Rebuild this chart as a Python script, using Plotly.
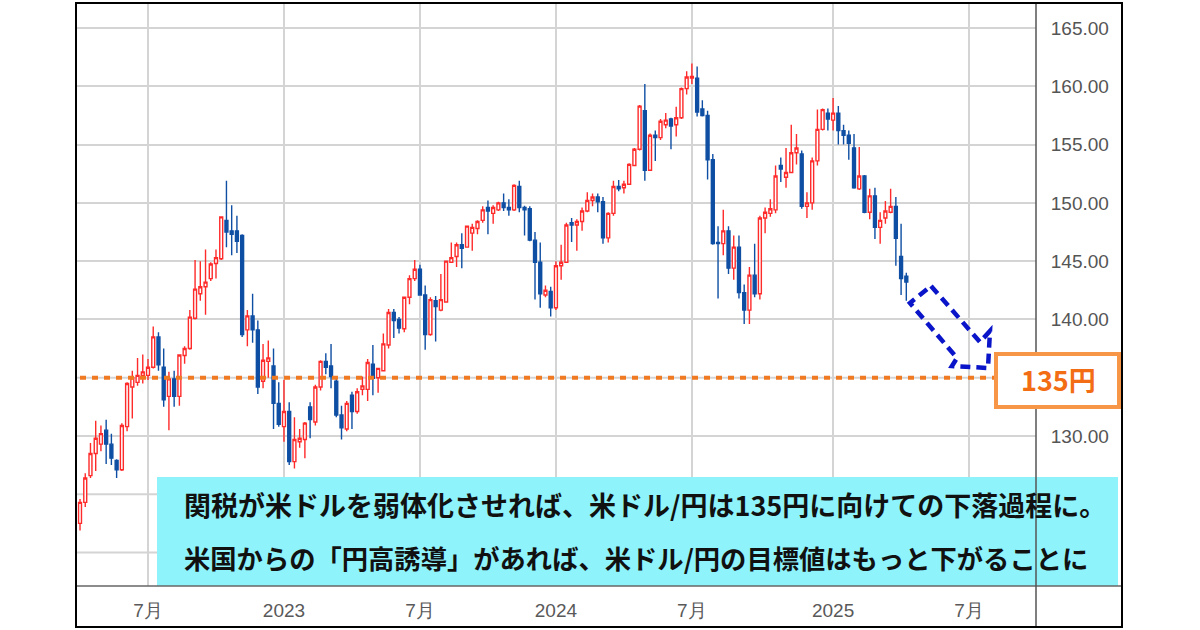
import pandas as pd
import plotly.graph_objects as go

# ---- data (weekly USD/JPY candles, week starting Monday) ----
start_week = "2022-04-04"
opens = [122.5,124.3,126.6,128.5,129.3,130.5,129.3,127.9,127.1,130.8,134.2,134.6,135.2,135.2,135.9,138.5,135.9,133.4,134.9,133.4,136.9,137.5,140.1,142.2,142.8,143.5,144.8,145.2,148.5,147.6,147.6,147.2,139.1,140.3,139.1,134.7,136.4,136.0,132.8,
         130.8,132.1,127.8,129.5,129.7,132.5,131.2,134.2,136.4,136.0,134.7,131.8,130.6,133.5,132.1,134.0,134.0,136.15,135.0,135.6,137.8,140.6,140.0,139.2,141.9,143.5,144.3,142.1,138.7,141.6,140.8,141.5,144.9,145.4,146.4,146.2,147.4,147.8,148.5,149.6,149.1,149.4,150.0,149.6,149.4,151.4,149.6,149.5,146.8,144.9,142.1,142.4,
         141.0,144.6,144.9,148.3,148.1,148.4,149.3,150.2,150.5,150.1,147.0,149.1,151.4,151.3,151.6,153.2,154.6,157.9,152.8,155.8,155.6,156.7,157.2,156.7,157.3,159.8,160.7,160.7,158.05,157.5,153.7,146.6,146.5,147.6,144.4,146.2,142.3,140.8,143.8,142.2,148.7,149.1,149.4,153.2,152.2,152.6,154.3,154.2,149.7,150.0,153.6,156.3,157.7,
         157.1,157.7,156.2,155.8,154.7,151.2,152.3,149.2,150.6,147.9,148.7,149.2,149.7,145.4,143.7]
highs = [124.6,126.8,129.4,131.3,130.9,131.4,130.2,128.0,131.1,134.6,135.6,136.7,137.0,136.6,139.4,138.9,137.5,135.5,135.6,137.0,137.7,140.8,145.1,145.0,146.0,144.9,146.0,148.85,151.9,149.8,148.9,147.3,140.8,142.2,139.9,137.9,138.2,137.5,134.6,
         134.8,132.9,131.6,130.6,131.2,132.9,134.4,136.5,137.1,137.9,135.1,132.6,133.0,133.8,134.1,135.1,136.6,137.8,135.8,138.8,140.9,140.9,140.2,141.9,143.8,145.1,144.7,142.9,141.9,142.0,143.9,145.0,146.6,146.6,147.4,148.0,148.2,148.5,149.7,150.2,149.8,150.1,150.8,150.3,151.6,151.9,149.75,149.7,147.5,146.6,142.9,142.8,
         145.0,146.4,148.3,148.7,148.6,149.6,150.9,150.8,150.8,150.5,149.2,151.9,151.97,151.9,153.4,154.7,158.4,160.2,155.95,156.2,157.2,157.7,157.3,158.25,159.9,161.3,161.95,161.7,158.8,157.9,154.2,148.0,149.4,148.0,147.2,147.2,143.0,144.5,146.5,148.9,149.6,150.3,153.2,153.9,154.7,156.7,155.9,154.5,150.9,153.9,158.0,158.1,158.1,
         159.0,158.3,156.7,156.2,155.9,154.8,152.4,151.2,151.3,149.2,150.15,151.2,150.5,148.2,144.0]
lows = [121.9,123.9,126.4,127.0,128.7,127.6,127.5,126.4,127.0,130.4,131.5,134.3,134.5,134.8,135.8,135.6,132.5,130.5,132.5,132.6,136.2,137.4,140.0,141.6,140.4,143.3,143.5,145.1,146.2,145.5,145.7,138.5,137.7,138.0,133.6,134.1,135.0,130.6,130.8,
        129.5,127.5,127.2,129.0,128.1,129.8,130.9,133.9,135.3,134.1,131.6,129.7,130.4,130.6,131.9,133.5,133.0,133.5,133.7,135.6,137.5,138.4,138.8,138.9,141.3,143.3,142.1,137.4,138.6,138.1,140.7,141.5,144.9,144.5,144.4,146.2,145.9,147.3,148.3,147.3,148.2,149.3,149.3,148.9,149.3,149.2,147.2,146.7,141.7,141.0,141.9,140.25,
        140.8,143.4,144.9,146.65,145.9,147.6,149.2,149.7,149.2,146.5,146.6,148.9,151.0,150.8,151.6,153.2,154.5,151.9,152.8,153.6,155.4,156.4,154.6,155.7,157.2,159.3,160.2,157.4,157.4,152.0,146.4,141.8,145.5,143.9,143.4,141.8,139.6,139.6,141.9,141.7,147.4,148.8,149.1,151.8,151.3,152.6,153.3,149.5,148.7,149.4,153.2,156.2,156.2,
        156.2,155.0,155.0,153.7,151.2,151.1,149.1,148.6,146.9,146.5,148.2,149.1,144.6,142.1,141.6]
closes = [124.3,126.4,128.5,129.8,130.2,129.3,128.1,127.1,130.9,134.5,135.0,135.2,135.5,135.9,138.5,136.1,133.1,134.9,133.4,136.95,137.5,140.2,142.6,142.8,143.2,144.75,145.3,148.8,147.5,147.3,146.7,138.7,140.3,139.1,134.2,136.5,136.7,132.8,131.0,
          132.1,127.8,129.7,129.8,131.1,131.4,134.2,136.4,135.9,135.1,131.8,130.7,132.8,132.1,133.8,134.3,136.3,134.95,135.8,137.9,140.6,139.9,139.25,141.9,143.5,144.3,142.1,138.7,141.7,141.1,141.7,145.0,145.3,146.4,146.1,148.0,147.9,148.4,149.4,149.3,149.6,150.0,149.6,149.4,151.5,149.6,149.4,146.8,144.9,142.2,142.5,141.0,
          144.6,144.9,148.1,148.1,148.4,149.3,150.2,150.5,150.1,147.0,149.1,151.4,151.2,151.6,153.3,154.6,158.3,152.8,155.8,155.6,157.0,157.1,156.6,157.3,159.8,160.8,160.85,157.8,157.5,153.7,146.5,146.5,147.6,144.4,146.2,142.3,140.8,143.8,142.2,148.7,149.2,149.5,152.3,152.9,152.6,154.3,154.7,149.7,150.0,153.6,156.3,158.0,157.2,
          157.7,156.2,155.8,155.1,151.3,152.3,149.2,150.6,147.9,148.5,149.3,149.7,146.95,143.5,143.2]
dates = pd.date_range(start_week, periods=len(opens), freq="W-MON")

tick_dates = ["2022-07-04", "2023-01-02", "2023-07-03", "2024-01-01", "2024-07-01", "2025-01-06", "2025-07-07"]
tick_text = ["7月", "2023", "7月", "2024", "7月", "2025", "7月"]
y_label_vals = [130, 140, 145, 150, 155, 160, 165]     # labels visible in the reference
y_hidden_grid = [120, 125, 135]                          # grid lines whose labels are covered
target_level = 135
target_label = "135円"
line1 = "関税が米ドルを弱体化させれば、米ドル/円は135円に向けての下落過程に。"
line2 = "米国からの「円高誘導」があれば、米ドル/円の目標値はもっと下がることに"

# ---- styling ----
RED = "#ff2a2a"
BLUE = "#0e4ea3"
GRID = "#d4d4d4"
W, H = 1200, 630
L, R, T, B = 76, 1036, 4, 586


def xp(px):
    return (px - L) / (R - L)


def yp(py):
    return (B - py) / (B - T)


fig = go.Figure(go.Candlestick(
    x=dates, open=opens, high=highs, low=lows, close=closes,
    increasing=dict(line=dict(color=RED, width=1.4), fillcolor="white"),
    decreasing=dict(line=dict(color=BLUE, width=1.4), fillcolor=BLUE),
    whiskerwidth=0, showlegend=False, hoverinfo="skip",
))

shapes = []
for v in y_hidden_grid:
    shapes.append(dict(type="line", xref="paper", yref="y", x0=0, x1=1, y0=v, y1=v,
                       line=dict(color=GRID, width=2), layer="below"))
# text box
shapes.append(dict(type="rect", xref="paper", yref="paper", x0=xp(157), x1=xp(1118), y0=yp(586), y1=yp(477),
                   fillcolor="#8ef3fb", line=dict(width=0), layer="above"))
# 135 dotted line
shapes.append(dict(type="line", xref="paper", yref="y", x0=xp(80), x1=xp(995), y0=target_level, y1=target_level,
                   line=dict(color="#f07a22", width=4, dash="6px,6px"), layer="above"))
# frame lines
shapes.append(dict(type="line", xref="paper", yref="paper", x0=xp(76), x1=xp(1122), y0=yp(586), y1=yp(586),
                   line=dict(color="#666666", width=1.5), layer="above"))
shapes.append(dict(type="line", xref="paper", yref="paper", x0=xp(1036), x1=xp(1036), y0=yp(4), y1=yp(627),
                   line=dict(color="#555555", width=1.5), layer="above"))
shapes.append(dict(type="rect", xref="paper", yref="paper", x0=xp(76), x1=xp(1122), y0=yp(627), y1=yp(3),
                   line=dict(color="#000000", width=2), layer="above"))
# orange label box
shapes.append(dict(type="rect", xref="paper", yref="paper", x0=xp(996), x1=xp(1119), y0=yp(407), y1=yp(354),
                   fillcolor="white", line=dict(color="#f79646", width=4), layer="above"))
# dashed block arrow
pts = [(931, 286), (980, 342), (990, 331), (988, 368), (952, 366), (957, 358), (910, 303)]
path = "M " + " L ".join(f"{xp(a):.5f},{yp(b):.5f}" for a, b in pts) + " Z"
shapes.append(dict(type="path", xref="paper", yref="paper", path=path,
                   line=dict(color="#0a14c8", width=4.5, dash="10px,6px"), layer="above"))

annotations = [
    dict(xref="paper", yref="paper", x=xp(182), y=yp(504), xanchor="left", yanchor="middle", showarrow=False,
         text=line1, font=dict(family="Noto Sans CJK JP", size=27, color="#111111", weight="bold")),
    dict(xref="paper", yref="paper", x=xp(182), y=yp(557), xanchor="left", yanchor="middle", showarrow=False,
         text=line2, font=dict(family="Noto Sans CJK JP", size=26.3, color="#111111", weight="bold")),
    dict(xref="paper", yref="paper", x=xp(1058), y=yp(380), xanchor="center", yanchor="middle", showarrow=False,
         text=target_label, font=dict(family="Noto Sans CJK JP", size=27, color="#f26d14", weight="bold")),
]

fig.update_layout(
    width=W, height=H,
    margin=dict(l=L, r=W - R, t=T, b=H - B),
    paper_bgcolor="white", plot_bgcolor="white",
    shapes=shapes, annotations=annotations,
    boxgap=0.2,
    font=dict(family="Liberation Sans", color="#555555"),
)
fig.update_xaxes(
    type="date", range=["2022-03-29 15:00", "2025-10-04 14:00"],
    rangeslider=dict(visible=False),
    tickvals=tick_dates, ticktext=tick_text,
    showgrid=True, gridcolor=GRID, gridwidth=2,
    ticks="outside", ticklen=7, tickcolor="rgba(0,0,0,0)",
    tickfont=dict(family="Liberation Sans", size=19, color="#595959"),
    showline=False, zeroline=False,
)
fig.update_yaxes(
    side="right", range=[117.13, 167.06],
    tickvals=y_label_vals, ticktext=[f"{v:.2f}" for v in y_label_vals],
    showgrid=True, gridcolor=GRID, gridwidth=2,
    ticks="outside", ticklen=10, tickcolor="rgba(0,0,0,0)",
    tickfont=dict(family="Liberation Sans", size=19, color="#555555"),
    showline=False, zeroline=False,
)

fig.write_html("out.html", config={"displayModeBar": False},
               post_script="document.body.style.margin='0';document.body.style.overflow='hidden';")
